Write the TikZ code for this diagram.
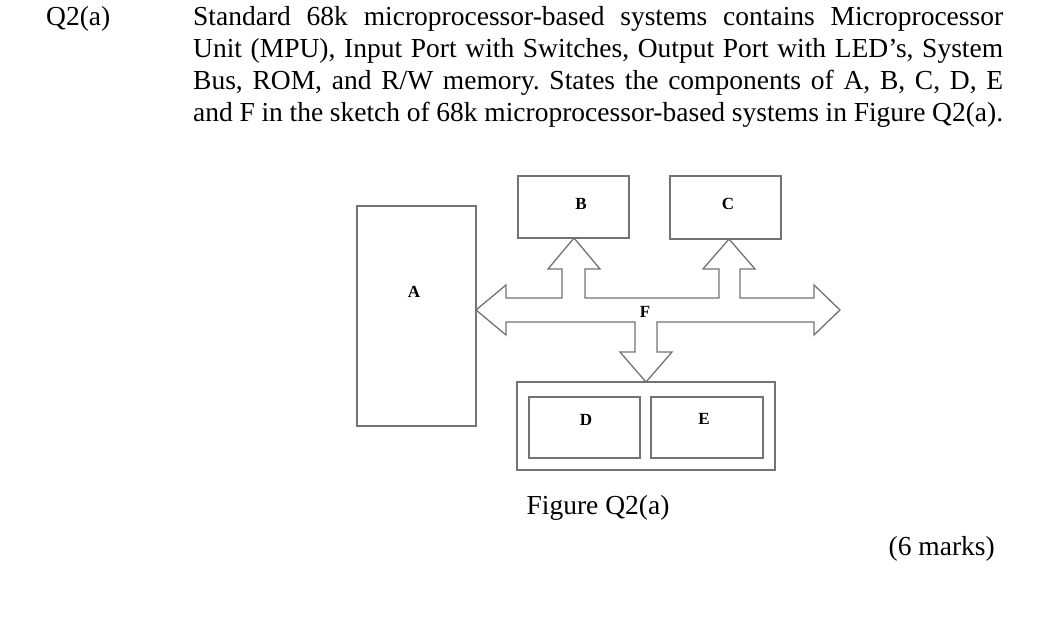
\documentclass[tikz,border=0pt]{standalone}
\usepackage{fontspec}
\setmainfont{Liberation Serif}
\begin{document}
\begin{tikzpicture}[x=1pt,y=-1pt,
  blk/.style={draw=black!55,line width=1.3pt,inner sep=0pt},
  lbl/.style={font=\fontsize{17}{20}\selectfont\bfseries},
  txt/.style={font=\fontsize{27.5}{32}\selectfont,inner sep=0pt}]
\useasboundingbox (0,0) rectangle (1061,644);
\node[txt,anchor=west] (q) at (46,19) {Q2(a)};
\node[txt,anchor=north west,text width=810pt,align=justify] (body) at (193,6)
{\frenchspacing\emergencystretch=2em Standard 68k microprocessor-based systems contains Microprocessor\linebreak Unit (MPU), Input Port with Switches, Output Port with LED's, System\linebreak Bus, ROM, and R/W memory. States the components of A, B, C, D, E\linebreak and F in the sketch of 68k microprocessor-based systems in Figure Q2(a).};
\node[blk,minimum width=119pt,minimum height=220pt] (A) at (416.5,316) {};
\node[lbl] at (414,292) {A};
\node[blk,minimum width=111pt,minimum height=62pt] (B) at (573.5,207) {};
\node[lbl] at (581,204) {B};
\node[blk,minimum width=111pt,minimum height=63pt] (C) at (725.5,207.5) {};
\node[lbl] at (728,204) {C};
\node[blk,minimum width=258pt,minimum height=88pt] (DE) at (646,426) {};
\node[blk,minimum width=111pt,minimum height=61pt] (D) at (584.5,427.5) {};
\node[lbl] at (586,420) {D};
\node[blk,minimum width=112pt,minimum height=61pt] (E) at (707,427.5) {};
\node[lbl] at (704,419) {E};
\draw[draw=black!55,line width=1.3pt,line join=miter] (476,310) -- (506,285) -- (506,298) -- (562,298) -- (562,269) -- (548,269) -- (574,238) -- (600,269) -- (585,269) -- (585,298) -- (719,298) -- (719,269) -- (703,269) -- (729,239) -- (755,269) -- (740,269) -- (740,298) -- (814,298) -- (814,285) -- (840,310) -- (814,335) -- (814,322) -- (657,322) -- (657,352) -- (672,352) -- (646,382) -- (620,352) -- (635,352) -- (635,322) -- (506,322) -- (506,335) -- cycle;
\node[lbl] (F) at (645,312) {F};
\node[txt] (fig) at (598,508) {Figure Q2(a)};
\node[txt,anchor=east] (marks) at (995,549) {(6 marks)};
\end{tikzpicture}
\end{document}
